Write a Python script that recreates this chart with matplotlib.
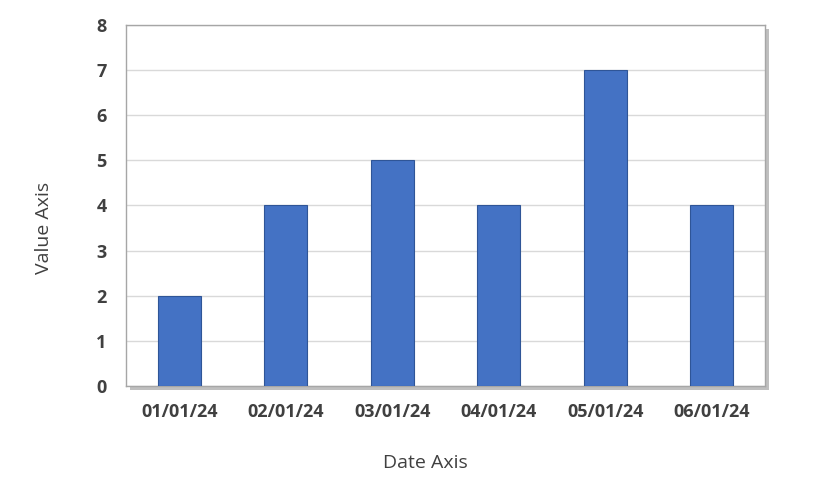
import matplotlib.pyplot as plt
import matplotlib.patheffects as pe

plt.rcParams['font.family'] = ['Open Sans', 'DejaVu Sans']

dates = ['01/01/24', '02/01/24', '03/01/24', '04/01/24', '05/01/24', '06/01/24']
values = [2, 4, 5, 4, 7, 4]

fig = plt.figure(figsize=(8.32, 4.95), dpi=100)
ax = fig.add_axes([0.1514, 0.2202, 0.7681, 0.7293])

ax.bar(range(len(dates)), values, width=0.4, color='#4472C4',
       edgecolor='#2F5597', linewidth=0.8, zorder=3)

ax.set_xlim(-0.5, len(dates) - 0.5)
ax.set_ylim(0, 8)
ax.set_xticks(range(len(dates)))
ax.set_xticklabels(dates)
ax.set_yticks(range(0, 9))

ax.grid(axis='y', color='#D9D9D9', linewidth=1, zorder=0)
ax.tick_params(length=0, labelsize=13, labelcolor='#404040')
ax.tick_params(axis='x', pad=12)
ax.tick_params(axis='y', pad=14)
for lbl in ax.get_xticklabels() + ax.get_yticklabels():
    lbl.set_fontweight('bold')

for s in ax.spines.values():
    s.set_color('#A6A6A6')
    s.set_linewidth(1)

ax.patch.set_path_effects([pe.SimplePatchShadow(offset=(3, -3), shadow_rgbFace='#808080', alpha=0.5),
                           pe.Normal()])

fig.text(425 / 832, 1 - 463 / 495, 'Date Axis', fontsize=14, color='#404040',
         ha='center', va='center')
fig.text(44 / 832, 1 - 228 / 495, 'Value Axis', fontsize=14, color='#404040',
         ha='center', va='center', rotation=90)

fig.savefig('out.png', dpi=100)
